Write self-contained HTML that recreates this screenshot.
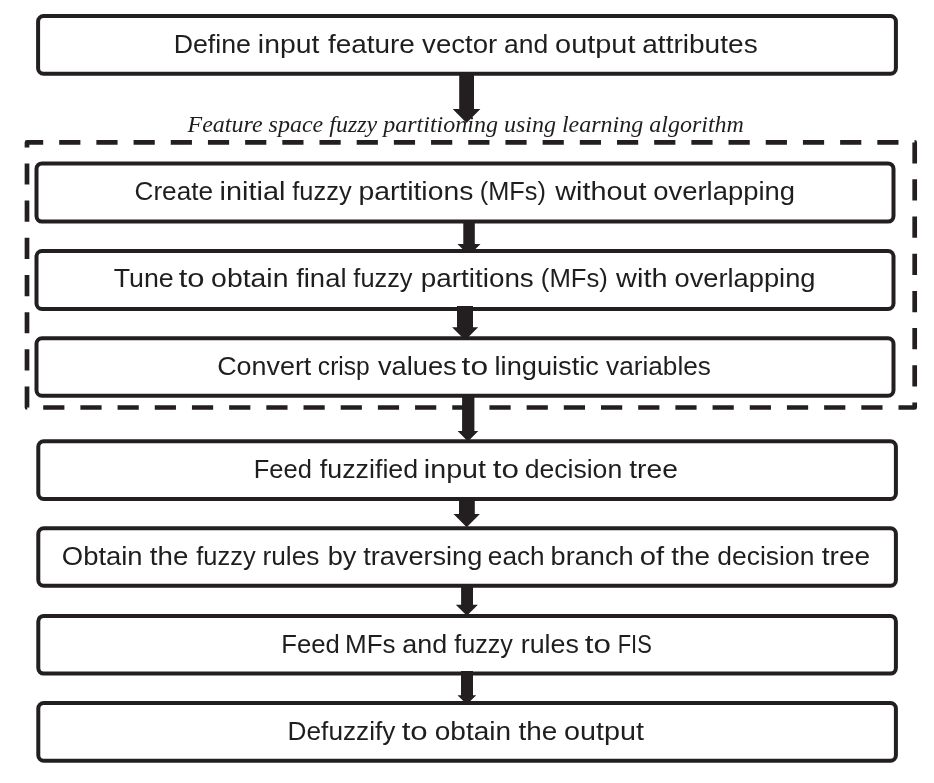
<!DOCTYPE html>
<html><head><meta charset="utf-8"><title>Fuzzy decision tree flowchart</title>
<style>
html,body{margin:0;padding:0;background:#fff;}
body{width:934px;height:783px;overflow:hidden;font-family:"Liberation Sans",sans-serif;}
svg{display:block;will-change:transform;}
text{white-space:pre;}
</style></head><body>
<svg width="934" height="783" viewBox="0 0 934 783">
<rect width="934" height="783" fill="#fff"/>
<path d="M27.0,142.4 H914.7 V407.5 H27.0 Z" fill="none" stroke="#231f20" stroke-width="4.7" stroke-dasharray="21.2 15.987" stroke-dashoffset="5" stroke-linejoin="round"/>
<rect x="38.10" y="16.00" width="857.80" height="57.80" rx="5.50" fill="#fff" stroke="#231f20" stroke-width="4.0"/>
<path d="M459.2,74 L474.0,74 L474.0,109.1 L480.4,109.1 L466.55,122.95 L452.7,109.1 L459.2,109.1 Z" fill="#231f20"/>
<rect x="36.50" y="163.40" width="857.00" height="58.20" rx="5.50" fill="#fff" stroke="#231f20" stroke-width="4.0"/>
<path d="M463.3,222 L474.8,222 L474.8,244.0 L480.5,244.0 L469.00,255.50 L457.5,244.0 L463.3,244.0 Z" fill="#231f20"/>
<rect x="36.50" y="251.00" width="857.00" height="57.90" rx="5.50" fill="#fff" stroke="#231f20" stroke-width="4.0"/>
<path d="M457.0,306 L473.0,306 L473.0,327.3 L478.2,327.3 L465.15,340.35 L452.1,327.3 L457.0,327.3 Z" fill="#231f20"/>
<rect x="36.50" y="338.30" width="857.00" height="57.40" rx="5.50" fill="#fff" stroke="#231f20" stroke-width="4.0"/>
<path d="M462.1,396 L474.4,396 L474.4,431.1 L478.3,431.1 L467.95,441.45 L457.6,431.1 L462.1,431.1 Z" fill="#231f20"/>
<rect x="38.30" y="441.20" width="857.60" height="57.70" rx="5.50" fill="#fff" stroke="#231f20" stroke-width="4.0"/>
<path d="M459.0,499 L474.8,499 L474.8,514.1 L479.9,514.1 L466.70,527.30 L453.5,514.1 L459.0,514.1 Z" fill="#231f20"/>
<rect x="38.30" y="528.30" width="857.60" height="57.50" rx="5.50" fill="#fff" stroke="#231f20" stroke-width="4.0"/>
<path d="M461.1,586 L473.0,586 L473.0,604.7 L477.9,604.7 L466.85,615.75 L455.8,604.7 L461.1,604.7 Z" fill="#231f20"/>
<rect x="38.30" y="615.90" width="857.60" height="57.70" rx="5.50" fill="#fff" stroke="#231f20" stroke-width="4.0"/>
<path d="M461.0,671 L473.0,671 L473.0,695.2 L476.2,695.2 L466.85,704.55 L457.5,695.2 L461.0,695.2 Z" fill="#231f20"/>
<rect x="38.30" y="703.10" width="857.60" height="57.60" rx="5.50" fill="#fff" stroke="#231f20" stroke-width="4.0"/>
<g font-family="Liberation Sans" font-size="26" fill="#1e1e1e">
<text x="173.70" y="53" textLength="77.30" lengthAdjust="spacingAndGlyphs">Define</text>
<text x="257.87" y="53" textLength="61.49" lengthAdjust="spacingAndGlyphs">input</text>
<text x="327.92" y="53" textLength="86.85" lengthAdjust="spacingAndGlyphs">feature</text>
<text x="422.11" y="53" textLength="75.07" lengthAdjust="spacingAndGlyphs">vector</text>
<text x="503.91" y="53" textLength="44.22" lengthAdjust="spacingAndGlyphs">and</text>
<text x="555.08" y="53" textLength="80.38" lengthAdjust="spacingAndGlyphs">output</text>
<text x="642.24" y="53" textLength="115.43" lengthAdjust="spacingAndGlyphs">attributes</text>
<text x="134.51" y="200" textLength="78.53" lengthAdjust="spacingAndGlyphs">Create</text>
<text x="219.59" y="200" textLength="65.86" lengthAdjust="spacingAndGlyphs">initial</text>
<text x="292.32" y="200" textLength="59.31" lengthAdjust="spacingAndGlyphs">fuzzy</text>
<text x="358.46" y="200" textLength="114.84" lengthAdjust="spacingAndGlyphs">partitions</text>
<text x="479.84" y="200" textLength="66.12" lengthAdjust="spacingAndGlyphs">(MFs)</text>
<text x="555.21" y="200" textLength="91.31" lengthAdjust="spacingAndGlyphs">without</text>
<text x="653.27" y="200" textLength="141.69" lengthAdjust="spacingAndGlyphs">overlapping</text>
<text x="113.69" y="287" textLength="60.03" lengthAdjust="spacingAndGlyphs">Tune</text>
<text x="178.69" y="287" textLength="25.80" lengthAdjust="spacingAndGlyphs">to</text>
<text x="211.13" y="287" textLength="77.28" lengthAdjust="spacingAndGlyphs">obtain</text>
<text x="296.17" y="287" textLength="50.33" lengthAdjust="spacingAndGlyphs">final</text>
<text x="353.34" y="287" textLength="59.23" lengthAdjust="spacingAndGlyphs">fuzzy</text>
<text x="420.87" y="287" textLength="112.92" lengthAdjust="spacingAndGlyphs">partitions</text>
<text x="540.84" y="287" textLength="67.05" lengthAdjust="spacingAndGlyphs">(MFs)</text>
<text x="616.11" y="287" textLength="51.39" lengthAdjust="spacingAndGlyphs">with</text>
<text x="674.48" y="287" textLength="141.00" lengthAdjust="spacingAndGlyphs">overlapping</text>
<text x="217.15" y="375" textLength="94.18" lengthAdjust="spacingAndGlyphs">Convert</text>
<text x="317.87" y="375" textLength="51.84" lengthAdjust="spacingAndGlyphs">crisp</text>
<text x="377.90" y="375" textLength="78.79" lengthAdjust="spacingAndGlyphs">values</text>
<text x="461.61" y="375" textLength="26.50" lengthAdjust="spacingAndGlyphs">to</text>
<text x="494.57" y="375" textLength="104.40" lengthAdjust="spacingAndGlyphs">linguistic</text>
<text x="606.09" y="375" textLength="104.80" lengthAdjust="spacingAndGlyphs">variables</text>
<text x="253.81" y="478" textLength="58.07" lengthAdjust="spacingAndGlyphs">Feed</text>
<text x="319.86" y="478" textLength="98.32" lengthAdjust="spacingAndGlyphs">fuzzified</text>
<text x="423.85" y="478" textLength="62.12" lengthAdjust="spacingAndGlyphs">input</text>
<text x="492.78" y="478" textLength="26.15" lengthAdjust="spacingAndGlyphs">to</text>
<text x="524.73" y="478" textLength="97.44" lengthAdjust="spacingAndGlyphs">decision</text>
<text x="629.24" y="478" textLength="48.58" lengthAdjust="spacingAndGlyphs">tree</text>
<text x="61.83" y="565" textLength="80.77" lengthAdjust="spacingAndGlyphs">Obtain</text>
<text x="149.85" y="565" textLength="38.48" lengthAdjust="spacingAndGlyphs">the</text>
<text x="196.32" y="565" textLength="59.31" lengthAdjust="spacingAndGlyphs">fuzzy</text>
<text x="262.49" y="565" textLength="56.96" lengthAdjust="spacingAndGlyphs">rules</text>
<text x="327.72" y="565" textLength="28.68" lengthAdjust="spacingAndGlyphs">by</text>
<text x="363.20" y="565" textLength="119.04" lengthAdjust="spacingAndGlyphs">traversing</text>
<text x="487.88" y="565" textLength="56.73" lengthAdjust="spacingAndGlyphs">each</text>
<text x="550.55" y="565" textLength="83.03" lengthAdjust="spacingAndGlyphs">branch</text>
<text x="639.89" y="565" textLength="24.36" lengthAdjust="spacingAndGlyphs">of</text>
<text x="671.38" y="565" textLength="38.70" lengthAdjust="spacingAndGlyphs">the</text>
<text x="717.35" y="565" textLength="97.03" lengthAdjust="spacingAndGlyphs">decision</text>
<text x="821.80" y="565" textLength="48.33" lengthAdjust="spacingAndGlyphs">tree</text>
<text x="281.34" y="653" textLength="58.51" lengthAdjust="spacingAndGlyphs">Feed</text>
<text x="345.02" y="653" textLength="50.57" lengthAdjust="spacingAndGlyphs">MFs</text>
<text x="402.20" y="653" textLength="44.93" lengthAdjust="spacingAndGlyphs">and</text>
<text x="454.19" y="653" textLength="58.70" lengthAdjust="spacingAndGlyphs">fuzzy</text>
<text x="520.75" y="653" textLength="58.11" lengthAdjust="spacingAndGlyphs">rules</text>
<text x="584.78" y="653" textLength="26.15" lengthAdjust="spacingAndGlyphs">to</text>
<text x="617.72" y="653" textLength="34.09" lengthAdjust="spacingAndGlyphs">FIS</text>
<text x="287.63" y="740" textLength="107.74" lengthAdjust="spacingAndGlyphs">Defuzzify</text>
<text x="401.69" y="740" textLength="26.00" lengthAdjust="spacingAndGlyphs">to</text>
<text x="434.71" y="740" textLength="76.40" lengthAdjust="spacingAndGlyphs">obtain</text>
<text x="518.42" y="740" textLength="38.75" lengthAdjust="spacingAndGlyphs">the</text>
<text x="564.02" y="740" textLength="79.94" lengthAdjust="spacingAndGlyphs">output</text>
</g>
<g font-family="Liberation Serif" font-style="italic" font-size="24" fill="#1e1e1e">
<text x="187.5" y="132">Feature space fuzzy partitioning using learning algorithm</text>
</g>
</svg>
</body></html>
